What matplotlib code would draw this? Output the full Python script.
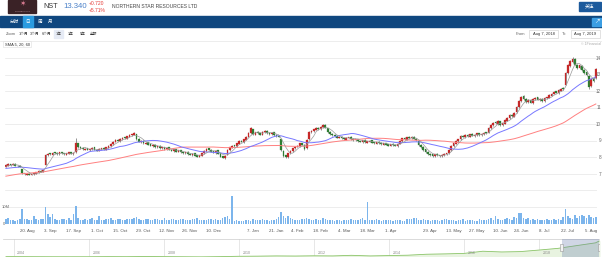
import numpy as np
import pandas as pd
import matplotlib
matplotlib.use("Agg")
import matplotlib.pyplot as plt
from matplotlib.patches import Rectangle

plt.rcParams['font.family'] = ['Liberation Sans', 'Noto Sans CJK SC', 'DejaVu Sans']

# ---- data ----
holidays = ['2018-12-25', '2018-12-26', '2019-01-01', '2019-01-28',
            '2019-04-19', '2019-04-22', '2019-04-25', '2019-06-10']

opens = [7.45, 7.50, 7.60, 7.55, 7.62, 7.50, 7.48,
         7.30, 7.05, 6.96, 7.02, 6.96, 6.99,
         7.02, 7.10, 7.20, 7.14,
         7.55,
         8.12, 8.24, 8.16, 8.30, 8.26, 8.18, 8.32, 8.25, 8.17, 8.22, 8.32, 8.20,
         8.30,
         8.85, 8.64, 8.56, 8.46, 8.54, 8.44, 8.50, 8.60, 8.47, 8.40, 8.50, 8.56, 8.46, 8.58,
         8.68, 8.80, 8.94, 9.08, 8.98, 9.10, 9.22, 9.14, 9.26, 9.36, 9.38,
         9.40, 9.12, 8.92, 9.02, 8.84, 8.92, 8.80,
         8.68, 8.78, 8.60, 8.70, 8.54, 8.62, 8.48, 8.60, 8.46, 8.38, 8.50, 8.34, 8.44, 8.32,
         8.24, 8.34, 8.22, 8.14, 8.24, 8.12, 8.04,
         8.10, 8.24, 8.38, 8.55, 8.46, 8.36, 8.26, 8.42, 8.24, 8.06, 7.96,
         8.15, 8.42, 8.58, 8.74, 8.66, 8.84, 9.02, 8.94, 9.08, 9.24, 9.45,
         9.70, 9.38, 9.54, 9.46, 9.36, 9.52, 9.62, 9.50, 9.40, 9.52, 9.36, 9.32,
         9.10,
         8.40, 8.12, 8.00, 8.24, 8.38, 8.54, 8.64, 8.68, 8.86, 8.76,
         8.55, 9.10, 9.52, 9.60, 9.68, 9.80, 9.70, 9.84, 9.96,
         9.78, 9.56, 9.42, 9.36, 9.30, 9.18, 9.26, 9.16, 9.08, 9.20, 9.24, 9.14, 9.03, 9.12,
         8.98, 8.94, 9.06, 8.90, 8.96, 9.04, 8.92, 8.84, 8.94, 8.90, 8.78, 8.86, 8.80, 8.70,
         8.82, 8.76, 8.68,
         8.84, 8.98, 9.18, 9.08, 9.24, 9.16, 9.26, 9.14,
         9.00, 8.78, 8.62, 8.48, 8.32, 8.22,
         8.18, 8.08, 8.20, 8.14, 8.06, 8.14, 8.18,
         8.24, 8.44, 8.68, 8.84, 8.98,
         9.12, 9.32, 9.24, 9.36, 9.26, 9.42, 9.30, 9.36, 9.46, 9.34, 9.40, 9.52,
         9.50, 9.78, 9.94, 10.12, 10.02, 10.18,
         9.96, 10.04, 10.22, 10.38, 10.58, 10.46,
         10.72, 11.02, 11.38, 11.68,
         11.52, 11.32, 11.48, 11.28, 11.52, 11.62, 11.46, 11.54, 11.38, 11.56,
         11.60, 11.72, 11.84, 11.98, 11.88, 12.02, 12.18,
         12.40, 13.12, 13.50, 13.78, 13.92,
         13.58, 13.38, 13.52, 13.28, 13.15,
         12.90,
         12.30, 12.80,
         12.80]

highs = [7.58, 7.64, 7.63, 7.66, 7.64, 7.54, 7.52,
         7.32, 7.08, 7.06, 7.05, 7.03, 7.08,
         7.14, 7.22, 7.22, 7.28,
         8.20,
         8.28, 8.28, 8.30, 8.34, 8.30, 8.33, 8.35, 8.28, 8.27, 8.34, 8.35, 8.32,
         9.18,
         8.90, 8.66, 8.60, 8.56, 8.57, 8.53, 8.62, 8.63, 8.50, 8.55, 8.58, 8.60, 8.63, 8.74,
         8.86, 8.98, 9.09, 9.12, 9.15, 9.24, 9.25, 9.32, 9.39, 9.44, 9.52,
         9.42, 9.16, 9.04, 9.05, 8.93, 8.95, 8.83,
         8.79, 8.81, 8.71, 8.73, 8.63, 8.65, 8.62, 8.63, 8.49, 8.51, 8.53, 8.45, 8.47, 8.35,
         8.35, 8.37, 8.25, 8.25, 8.27, 8.15, 8.15,
         8.28, 8.44, 8.56, 8.59, 8.49, 8.39, 8.44, 8.45, 8.27, 8.09, 8.14,
         8.50, 8.64, 8.76, 8.78, 8.89, 9.04, 9.06, 9.14, 9.29, 9.55, 9.85,
         9.74, 9.56, 9.58, 9.49, 9.58, 9.64, 9.66, 9.53, 9.54, 9.55, 9.39, 9.35,
         9.12,
         8.44, 8.15, 8.29, 8.44, 8.59, 8.66, 8.74, 8.89, 8.90, 8.80,
         9.10, 9.60, 9.66, 9.74, 9.82, 9.84, 9.89, 9.99, 10.02,
         9.80, 9.60, 9.45, 9.39, 9.33, 9.29, 9.29, 9.19, 9.21, 9.25, 9.27, 9.17, 9.13, 9.14,
         9.01, 9.08, 9.09, 9.01, 9.05, 9.07, 8.95, 8.95, 8.97, 8.93, 8.88, 8.89, 8.83, 8.83,
         8.85, 8.79, 8.86,
         9.04, 9.19, 9.21, 9.26, 9.28, 9.29, 9.30, 9.17,
         9.03, 8.82, 8.66, 8.52, 8.36, 8.26,
         8.22, 8.21, 8.24, 8.17, 8.19, 8.24, 8.29,
         8.49, 8.74, 8.89, 9.04, 9.14,
         9.34, 9.36, 9.39, 9.40, 9.44, 9.45, 9.42, 9.49, 9.50, 9.46, 9.54, 9.56,
         9.85, 9.99, 10.15, 10.18, 10.25, 10.22,
         10.10, 10.30, 10.45, 10.60, 10.63, 10.75,
         11.10, 11.45, 11.72, 11.74,
         11.56, 11.50, 11.52, 11.60, 11.66, 11.66, 11.57, 11.58, 11.62, 11.67,
         11.80, 11.90, 12.00, 12.02, 12.10, 12.20, 12.24,
         13.18, 13.62, 13.88, 14.05, 13.98,
         13.62, 13.60, 13.58, 13.34, 13.20,
         12.95,
         12.80, 12.86,
         13.40]

lows = [7.42, 7.46, 7.50, 7.52, 7.47, 7.42, 7.40,
        7.00, 6.94, 6.92, 6.92, 6.93, 6.96,
        7.00, 7.06, 7.12, 7.10,
        7.52,
        8.08, 8.15, 8.12, 8.22, 8.17, 8.15, 8.23, 8.15, 8.14, 8.19, 8.19, 8.17,
        8.28,
        8.58, 8.52, 8.45, 8.43, 8.42, 8.41, 8.47, 8.44, 8.36, 8.37, 8.47, 8.45, 8.43, 8.55,
        8.64, 8.77, 8.91, 8.97, 8.95, 9.07, 9.12, 9.11, 9.22, 9.32, 9.35,
        9.06, 8.92, 8.88, 8.82, 8.81, 8.75, 8.66,
        8.65, 8.59, 8.57, 8.52, 8.51, 8.47, 8.45, 8.42, 8.37, 8.35, 8.32, 8.31, 8.27, 8.22,
        8.21, 8.17, 8.12, 8.11, 8.07, 8.02, 8.01,
        8.07, 8.21, 8.35, 8.42, 8.32, 8.25, 8.23, 8.19, 8.02, 7.94, 7.93,
        8.12, 8.39, 8.55, 8.64, 8.62, 8.81, 8.91, 8.90, 9.05, 9.21, 9.42,
        9.36, 9.34, 9.41, 9.34, 9.33, 9.48, 9.44, 9.38, 9.37, 9.32, 9.26, 9.21,
        8.40,
        8.05, 7.97, 7.96, 8.20, 8.34, 8.51, 8.60, 8.64, 8.74, 8.45,
        8.52, 9.05, 9.48, 9.56, 9.64, 9.68, 9.66, 9.80, 9.76,
        9.50, 9.36, 9.31, 9.24, 9.16, 9.15, 9.11, 9.06, 9.05, 9.17, 9.08, 9.01, 9.00, 8.96,
        8.91, 8.90, 8.88, 8.87, 8.93, 8.86, 8.81, 8.81, 8.84, 8.76, 8.75, 8.74, 8.68, 8.67,
        8.71, 8.66, 8.65,
        8.80, 8.95, 9.06, 9.05, 9.14, 9.13, 9.09, 9.01,
        8.70, 8.56, 8.41, 8.26, 8.16, 8.10,
        8.05, 8.04, 8.09, 8.04, 8.03, 8.10, 8.14,
        8.20, 8.40, 8.64, 8.80, 8.94,
        9.08, 9.21, 9.20, 9.24, 9.22, 9.28, 9.26, 9.32, 9.31, 9.30, 9.36, 9.44,
        9.46, 9.74, 9.90, 10.00, 9.98, 9.90,
        9.92, 10.00, 10.18, 10.34, 10.43, 10.42,
        10.68, 10.98, 11.34, 11.45,
        11.30, 11.28, 11.26, 11.25, 11.48, 11.44, 11.42, 11.36, 11.34, 11.52,
        11.56, 11.68, 11.80, 11.86, 11.84, 11.98, 12.04,
        12.35, 13.05, 13.44, 13.72, 13.55,
        13.34, 13.32, 13.20, 13.05, 12.94,
        12.10,
        12.25, 12.55,
        12.76]

closes = [7.52, 7.60, 7.55, 7.62, 7.50, 7.46, 7.44,
          7.05, 6.98, 7.02, 6.95, 7.00, 7.04,
          7.10, 7.18, 7.15, 7.25,
          8.15,
          8.22, 8.18, 8.28, 8.25, 8.20, 8.30, 8.26, 8.18, 8.24, 8.30, 8.22, 8.28,
          8.90,
          8.62, 8.55, 8.48, 8.52, 8.45, 8.50, 8.58, 8.46, 8.40, 8.52, 8.55, 8.48, 8.60, 8.70,
          8.82, 8.95, 9.05, 9.00, 9.12, 9.20, 9.15, 9.28, 9.35, 9.40, 9.48,
          9.10, 8.95, 9.00, 8.85, 8.90, 8.78, 8.70,
          8.75, 8.62, 8.68, 8.55, 8.60, 8.50, 8.58, 8.45, 8.40, 8.48, 8.35, 8.42, 8.30, 8.25,
          8.32, 8.20, 8.15, 8.22, 8.10, 8.05, 8.12,
          8.25, 8.40, 8.52, 8.45, 8.35, 8.28, 8.40, 8.22, 8.05, 7.98, 8.10,
          8.45, 8.60, 8.72, 8.68, 8.85, 9.00, 8.95, 9.10, 9.25, 9.50, 9.78,
          9.40, 9.52, 9.45, 9.38, 9.55, 9.60, 9.48, 9.42, 9.50, 9.35, 9.30, 9.25,
          8.45,
          8.10, 8.02, 8.25, 8.40, 8.55, 8.62, 8.70, 8.85, 8.78, 8.50,
          9.05, 9.55, 9.62, 9.70, 9.78, 9.72, 9.85, 9.95, 9.80,
          9.55, 9.40, 9.35, 9.28, 9.20, 9.25, 9.15, 9.10, 9.18, 9.22, 9.12, 9.05, 9.10, 9.00,
          8.95, 9.05, 8.92, 8.98, 9.02, 8.90, 8.85, 8.92, 8.88, 8.80, 8.85, 8.78, 8.72, 8.80,
          8.75, 8.70, 8.82,
          9.00, 9.15, 9.10, 9.22, 9.18, 9.25, 9.12, 9.05,
          8.75, 8.60, 8.45, 8.30, 8.20, 8.15,
          8.10, 8.18, 8.12, 8.08, 8.15, 8.20, 8.25,
          8.45, 8.70, 8.85, 9.00, 9.10,
          9.30, 9.25, 9.35, 9.28, 9.40, 9.32, 9.38, 9.45, 9.35, 9.42, 9.50, 9.48,
          9.80, 9.95, 10.10, 10.05, 10.20, 9.95,
          10.05, 10.25, 10.40, 10.55, 10.48, 10.70,
          11.05, 11.40, 11.65, 11.50,
          11.35, 11.45, 11.30, 11.55, 11.60, 11.48, 11.52, 11.40, 11.58, 11.62,
          11.75, 11.85, 11.95, 11.90, 12.05, 12.15, 12.10,
          13.10, 13.55, 13.80, 13.95, 13.60,
          13.40, 13.55, 13.25, 13.10, 13.00,
          12.25,
          12.75, 12.62,
          13.34]

# closes before the visible window (needed for the SMA warm-up)
pre_closes = [6.10, 6.15, 6.05, 6.20, 6.25, 6.18, 6.30, 6.28, 6.35, 6.22,
              6.30, 6.40, 6.38, 6.45, 6.50, 6.42, 6.55, 6.60, 6.52, 6.58,
              6.65, 6.70, 6.62, 6.75, 6.80, 6.72, 6.85, 6.90, 6.82, 6.95,
              7.00, 6.92, 7.05, 7.10, 7.02, 7.15, 7.08, 7.20, 7.18, 7.25,
              7.22, 7.30, 7.28, 7.35, 7.20, 7.15, 7.25, 7.30, 7.18, 7.28,
              7.35, 7.40, 7.32, 7.38, 7.45, 7.40, 7.48, 7.42, 7.50]

# volume in millions
volumes = [3.0, 3.4, 2.6, 2.2, 2.0, 2.4, 3.0, 9.0, 2.8, 3.2, 2.5, 2.2, 4.8, 3.0, 2.6, 3.2, 2.8, 10.0, 5.6,
           4.2, 6.0, 3.2, 2.6, 2.4, 3.0, 2.8, 2.4, 3.6, 2.6, 5.6, 10.6, 3.4, 2.6, 2.2, 3.0, 2.4, 2.8, 3.4, 2.6,
           2.4, 4.8, 2.6, 2.2, 2.8, 3.0, 3.8, 2.6, 2.4, 3.2, 2.8, 2.6, 2.4, 3.0, 2.8, 3.2, 3.6, 4.0, 3.0, 2.6, 2.4, 2.8, 3.2,
           2.6, 2.4, 3.0, 2.8, 2.2, 2.6, 3.4, 2.4, 2.2, 2.8, 3.0, 2.4, 2.6, 3.2, 2.8, 2.2, 2.4, 2.6, 3.0, 2.8, 3.4, 2.6,
           2.4, 2.6, 2.2, 3.0, 2.8, 2.4, 3.2, 2.6, 2.4, 3.4, 4.0, 4.6, 3.2, 16.5, 1.6, 2.4, 2.0, 1.8, 1.6,
           2.2, 2.6, 2.0, 2.8, 2.4, 2.2, 2.6, 3.0, 2.4, 2.2, 2.0, 2.4, 2.6, 3.0, 4.0, 6.8, 4.6, 3.8, 4.8, 3.4, 3.0,
           2.6, 2.4, 2.2, 3.2, 2.8, 3.6, 3.0, 2.6, 2.4, 2.8, 2.2, 2.6, 3.4, 2.8, 2.4, 2.2, 2.6, 2.0, 2.4, 2.2,
           2.0, 2.6, 2.4, 2.2, 2.8, 2.4, 2.6, 2.2, 3.0, 3.4, 2.6, 12.8, 2.4, 2.2, 2.6, 2.8, 2.4, 2.0, 2.6, 2.4, 2.2,
           2.2, 2.0, 2.4, 2.2, 2.6, 1.8, 2.0, 3.0, 3.2, 2.8, 3.4, 3.6, 2.6, 2.4, 3.0, 2.2, 2.4, 2.0, 2.2,
           2.4, 2.2, 2.0, 2.6, 3.0, 2.8, 2.4, 2.2, 2.6, 2.0, 2.4, 2.2, 2.8, 2.0, 2.4, 2.6, 2.2, 2.0, 1.8, 2.8, 2.4, 2.6, 2.2,
           2.8, 3.6, 2.4, 5.0, 3.0, 2.6, 2.2, 2.8, 3.4, 3.0, 2.6, 4.0, 3.4, 6.4, 6.2, 3.8, 2.8, 3.6, 2.4,
           2.8, 2.6, 3.0, 2.4, 2.2, 2.6, 2.8, 2.4, 2.2, 3.2, 2.6, 2.8, 2.6, 4.2, 8.6, 4.8, 3.6, 2.8, 5.2, 3.8, 5.0, 5.2, 5.0,
           3.4, 5.4, 4.2, 3.8, 4.4]

tick_dates = ['2018-08-20', '2018-09-03', '2018-09-17', '2018-10-01', '2018-10-15', '2018-10-29',
              '2018-11-12', '2018-11-26', '2018-12-10', '2019-01-07', '2019-01-21', '2019-02-04',
              '2019-02-18', '2019-03-04', '2019-03-18', '2019-04-01', '2019-04-29', '2019-05-13',
              '2019-05-27', '2019-06-10', '2019-06-24', '2019-07-08', '2019-07-22', '2019-08-05']
tick_labels = ['20. Aug', '3. Sep', '17. Sep', '1. Oct', '15. Oct', '29. Oct', '12. Nov', '26. Nov',
               '10. Dec', '7. Jan', '21. Jan', '4. Feb', '18. Feb', '4. Mar', '18. Mar', '1. Apr',
               '29. Apr', '13. May', '27. May', '10. Jun', '24. Jun', '8. Jul', '22. Jul', '5. Aug']

price_ticks = [7, 8, 9, 10, 11, 12, 13, 14]

# navigator: whole history, half-yearly
nav_years = [2003.8, 2004.0, 2004.5, 2005.0, 2005.5, 2006.0, 2006.5, 2007.0, 2007.5, 2008.0,
             2008.5, 2009.0, 2009.5, 2010.0, 2010.5, 2011.0, 2011.5, 2012.0, 2012.5, 2013.0,
             2013.5, 2014.0, 2014.5, 2015.0, 2015.5, 2016.0, 2016.5, 2017.0, 2017.5, 2018.0,
             2018.5, 2019.0, 2019.5, 2019.6]
nav_prices = [0.30, 0.30, 0.25, 0.20, 0.18, 0.20, 0.30, 0.25, 0.40, 0.30,
              0.20, 0.10, 0.30, 0.60, 0.70, 0.90, 0.80, 1.00, 0.90, 1.40,
              0.90, 1.20, 1.50, 2.30, 2.60, 3.00, 4.80, 4.20, 4.50, 5.80,
              7.20, 9.50, 11.80, 13.34]
nav_year_ticks = [2004, 2006, 2008, 2010, 2012, 2014, 2016, 2018]

# ---- figure ----
W, H = 602, 257
fig = plt.figure(figsize=(W / 100, H / 100), dpi=100)


def fx(x):
    return x / W


def fy(y):
    return 1 - y / H


def box(x0, y0, x1, y1, **kw):
    fig.patches.append(Rectangle((fx(x0), fy(y1)), (x1 - x0) / W, (y1 - y0) / H,
                                 transform=fig.transFigure, **kw))


def txt(x, y, s, **kw):
    fig.text(fx(x), fy(y), s, va='center', **kw)


# header
box(8, 0, 36, 13, color='#3a2226')
txt(22, 5.5, '\u2736', ha='center', color='#e07f95', fontsize=5.5)
txt(22, 11, 'NORTHERN STAR', ha='center', color='#c9a0a8', fontsize=1.3)
txt(43, 7, 'NST', color='#333333', fontsize=5.2)
txt(63, 7, '13.340', color='#4a80c8', fontsize=5.6)
txt(89, 3.5, '+0.720', color='#e53935', fontsize=3.6)
txt(89, 10, '+5.71%', color='#e53935', fontsize=3.6)
txt(112, 7, 'NORTHERN STAR RESOURCES LTD', color='#444444', fontsize=3.6)
box(579, 2, 601, 10.5, color='#1c5a9c')
txt(590, 6.3, '关注', ha='center', color='white', fontsize=3.4)

# nav bar
box(0, 16, W, 27, color='#0f477f')
box(23, 16, 33, 27, color='#2a9be0')
for lx, s in [(14, '分时'), (28, '日'), (40, '周'), (50.5, '月')]:
    txt(lx, 21.5, s, ha='center', color='white', fontsize=3.3)
box(592, 17.5, 601, 26, color='#3b9ee3')
txt(596.5, 21.7, '\u2197', ha='center', color='white', fontsize=4)

# range selector row
txt(6, 34, 'Zoom', color='#666666', fontsize=2.9)
for lx, s in [(23, '1个月'), (35, '3个月'), (47, '6个月'), (58.5, '1年'),
              (70.5, '3年'), (82.5, '5年'), (94, '全部')]:
    if s == '1年':
        box(54, 30.5, 63, 37.5, color='#e6ebf5')
    txt(lx, 34, s, ha='center', color='#333333', fontsize=2.7)
txt(516, 34, 'From', color='#666666', fontsize=3.0)
box(529, 30.5, 558, 37.5, facecolor='white', edgecolor='#cccccc', lw=0.4)
txt(543.5, 34, 'Aug 7, 2018', ha='center', color='#333333', fontsize=3.0)
txt(562, 34, 'To', color='#666666', fontsize=3.0)
box(571, 30.5, 600, 37.5, facecolor='white', edgecolor='#cccccc', lw=0.4)
txt(585.5, 34, 'Aug 7, 2019', ha='center', color='#333333', fontsize=3.0)
fig.add_artist(plt.Line2D([0, 1], [fy(40.5)] * 2, color='#e6e6e6', lw=0.5))

# ---- price pane ----
dates = pd.bdate_range('2018-08-07', '2019-08-07')
dates = dates[~dates.isin(pd.to_datetime(holidays))]
idx = np.arange(len(dates))

o = np.array(opens)
h = np.array(highs)
l = np.array(lows)
c = np.array(closes)
up = c >= o
cols = np.where(up, '#c62828', '#2e7d32')

all_close = pd.Series(pre_closes + closes)
n_pre = len(pre_closes)
sma5 = all_close.rolling(5).mean().values[n_pre:]
sma20 = all_close.rolling(20).mean().values[n_pre:]
sma60 = all_close.rolling(60).mean().values[n_pre:]

ax = fig.add_axes([fx(4.7), fy(184), (597 - 4.7) / W, (184 - 45) / H])
ax.set_xlim(-0.5, len(idx) - 0.5)
ax.set_ylim(7 - 10 / 16.6, 14 + 13 / 16.6)
for p in price_ticks:
    ax.axhline(p, color='#e6e6e6', lw=0.5, zorder=0)
ax.vlines(idx, l, h, color='#444444', lw=0.4, zorder=2)
ax.bar(idx, np.maximum(np.abs(c - o), 0.02), bottom=np.minimum(o, c), width=0.72,
       color=cols, edgecolor=cols, lw=0.2, zorder=3)
ax.plot(idx, sma60, color='#ff8080', lw=0.7, zorder=4)
ax.plot(idx, sma20, color='#7878ff', lw=0.7, zorder=4)
ax.plot(idx, sma5, color='#9a9a9a', lw=0.5, zorder=4)
ax.axis('off')
for p in price_ticks:
    txt(601, 58 + (14 - p) * 16.6, str(p), ha='right', color='#666666', fontsize=3.3)

box(3, 41.5, 31, 47, facecolor='white', edgecolor='#dddddd', lw=0.4)
txt(5, 44.3, 'SMA 5, 20, 60', color='#333333', fontsize=2.9)
txt(601, 44, '\u00a9 1Financial', ha='right', color='#aaaaaa', fontsize=2.6)

# ---- volume pane ----
axv = fig.add_axes([fx(4.7), fy(224), (597 - 4.7) / W, (224 - 186) / H])
axv.set_xlim(-0.5, len(idx) - 0.5)
axv.set_ylim(0, 38 / 1.7)
for v in [0, 10, 20]:
    axv.axhline(v, color='#e6e6e6', lw=0.5, zorder=0)
axv.bar(idx, volumes, width=0.62, color='#7cb5ec', zorder=2)
axv.axis('off')
txt(2, 207, '10M', color='#666666', fontsize=3.0)
txt(3, 224, '0', color='#666666', fontsize=3.0)

# x labels under the volume pane
pos = dates.searchsorted(pd.to_datetime(tick_dates))
for p, s in zip(pos, tick_labels):
    xp = 4.7 + (p + 0.5) * (597 - 4.7) / len(idx)
    txt(xp, 231, s, ha='center', color='#555555', fontsize=3.2)

# ---- navigator ----
axn = fig.add_axes([fx(3), 0, (600 - 3) / W, 18 / H])
axn.set_xlim(2003.72, 2019.62)
axn.set_ylim(0, 15)
for yr in nav_year_ticks:
    axn.axvline(yr, color='#dddddd', lw=0.5, zorder=0)
    axn.text(yr + 0.1, 3.5, str(yr), color='#888888', fontsize=2.6, va='center')
axn.fill_between(nav_years, nav_prices, color='#e8f3e0', zorder=1)
axn.plot(nav_years, nav_prices, color='#8cc56a', lw=0.6, zorder=2)
sel0 = dates[0].year + (dates[0].dayofyear - 1) / 365
sel1 = dates[-1].year + (dates[-1].dayofyear - 1) / 365
axn.axvspan(sel0, sel1, color='#667aab', alpha=0.3, lw=0, zorder=3)
for s in (sel0, sel1):
    axn.add_patch(Rectangle((s - 0.04, 5), 0.08, 6, facecolor='#f2f2f2',
                            edgecolor='#999999', lw=0.4, zorder=4))
axn.axhline(15, color='#cccccc', lw=0.5)
axn.axis('off')

fig.savefig('out.png', dpi=100)
